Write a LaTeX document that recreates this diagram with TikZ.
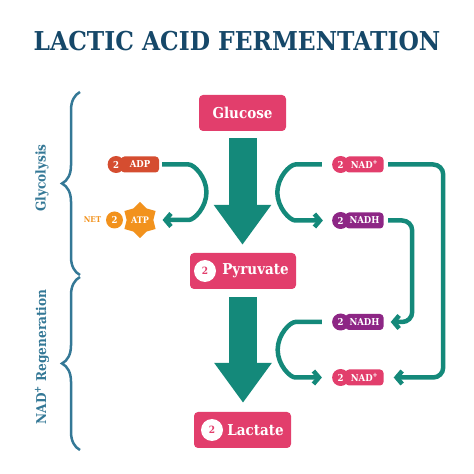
\documentclass[tikz,border=0pt]{standalone}
\usepackage{fontspec}
\setmainfont{DejaVu Serif}[FakeStretch=0.9]
\usetikzlibrary{arrows.meta, positioning, shapes.geometric, decorations.pathreplacing}
\definecolor{titlec}{RGB}{22,72,105}
\definecolor{bracec}{RGB}{52,120,150}
\definecolor{pinkc}{RGB}{226,62,108}
\definecolor{adpc}{RGB}{213,77,48}
\definecolor{atpc}{RGB}{242,146,29}
\definecolor{nadhc}{RGB}{141,38,133}
\definecolor{tealc}{RGB}{20,137,122}
\tikzset{
  x=1pt, y=1pt,
  mainbox/.style={fill=pinkc, rounded corners=4pt, text=white,
    font=\bfseries\fontsize{15}{15}\selectfont, minimum height=36pt}, % big pink boxes
  pill/.style={fill=#1, rounded corners=3.5pt, text=white,
    font=\bfseries\fontsize{9.5}{9.5}\selectfont, minimum height=16pt,
    minimum width=38pt, inner sep=1pt},
  num/.style={circle, fill=#1, text=white,
    font=\bfseries\fontsize{9.5}{9.5}\selectfont, minimum size=17pt, inner sep=0pt},
  badge/.style={circle, fill=white, text=pinkc,
    font=\bfseries\fontsize{10}{10}\selectfont, minimum size=22pt, inner sep=0pt},
  flow/.style={draw=tealc, line width=4.5pt, rounded corners=10pt,
    -{Straight Barb[length=5.5pt,width=13pt]}},
  bigflow/.style={draw=tealc, line width=28pt, -{Triangle[width=55pt,length=40pt]}},
  phase/.style={draw=bracec, line width=2.5pt, decorate,
    decoration={brace, amplitude=18pt}},
  phaselabel/.style={rotate=90, text=bracec, font=\bfseries\fontsize{13.5}{13.5}\selectfont},
}
\begin{document}
\begin{tikzpicture}
  \useasboundingbox (0,0) rectangle (474,474);

  \node[text=titlec, font=\bfseries\fontsize{26}{26}\selectfont] (title) at (237,433)
    {LACTIC ACID FERMENTATION};

  % main chain
  \node[mainbox, minimum width=87pt] (glucose) at (242.5,361) {Glucose};
  \node[mainbox, minimum width=106pt] (pyruvate) at (243,203) {\hspace{25pt}Pyruvate};
  \node[badge, right=4pt of pyruvate.west] (pyruvaten) {2};
  \node[mainbox, minimum width=97pt] (lactate) at (242.5,44) {\hspace{26pt}Lactate};
  \node[badge, right=7pt of lactate.west] (lactaten) {2};

  \draw[bigflow, shorten <=7pt, shorten >=8pt] (glucose.south) -- (glucose.south |- pyruvate.north);
  \draw[bigflow, shorten <=8pt, shorten >=9pt] (pyruvate.south) -- (pyruvate.south |- lactate.north);

  % ADP / ATP
  \node[pill=adpc] (adp) at (140,309.5) {ADP};
  \node[num=adpc, left=-4pt of adp] (adpn) {2};
  \node[star, star points=6, star point ratio=1.35, fill=atpc, minimum size=36pt,
    inner sep=0pt, text=white, font=\bfseries\fontsize{9}{9}\selectfont] (atp) at (140,254) {ATP};
  \node[num=atpc] (atpn) at (114.5,254) {2};
  \node[text=atpc, font=\bfseries\fontsize{8}{8}\selectfont, left=1pt of atpn] (net) {NET};

  \draw[flow, shorten <=3pt, shorten >=9pt] (adp.east) -- ++(19.5,0)
    arc[start angle=90, end angle=-90, radius=27.75] -- (atp.east);

  % NAD+ / NADH, glycolysis side
  \node[pill=pinkc] (nad) at (364.5,309.5) {NAD\textsuperscript{+}};
  \node[num=pinkc, left=-4pt of nad] (nadn) {2};
  \node[pill=nadhc] (nadh) at (364.5,253.5) {NADH};
  \node[num=nadhc, left=-4pt of nadh] (nadhn) {2};

  \draw[flow, shorten <=10pt, shorten >=9pt] (nadn.west) -- ++(-26.5,0)
    arc[start angle=90, end angle=270, radius=28] -- (nadhn.west);

  % NAD+ regeneration side
  \node[pill=nadhc] (nadhb) at (364.5,152) {NADH};
  \node[num=nadhc, left=-4pt of nadhb] (nadhbn) {2};
  \node[pill=pinkc] (nadb) at (364.5,96.5) {NAD\textsuperscript{+}};
  \node[num=pinkc, left=-4pt of nadb] (nadbn) {2};

  \draw[flow, shorten <=4.5pt, shorten >=10pt] (nad.east) -- ++(59.5,0) |- (nadb.east);
  \draw[flow, shorten <=4.5pt, shorten >=7pt] (nadh.east) -- ++(28.5,0) |- (nadhb.east);
  \draw[flow, shorten <=10pt, shorten >=10pt] (nadhbn.west) -- ++(-26.5,0)
    arc[start angle=90, end angle=270, radius=27.75] -- (nadbn.west);

  % phases
  \draw[phase] (80,199) -- (80,382);
  \node[phaselabel] (glyco) at (42,296) {Glycolysis};
  \draw[phase] (80,24) -- (80,197);
  \node[phaselabel] (regen) at (42,117) {NAD\textsuperscript{+} Regeneration};
\end{tikzpicture}
\end{document}
